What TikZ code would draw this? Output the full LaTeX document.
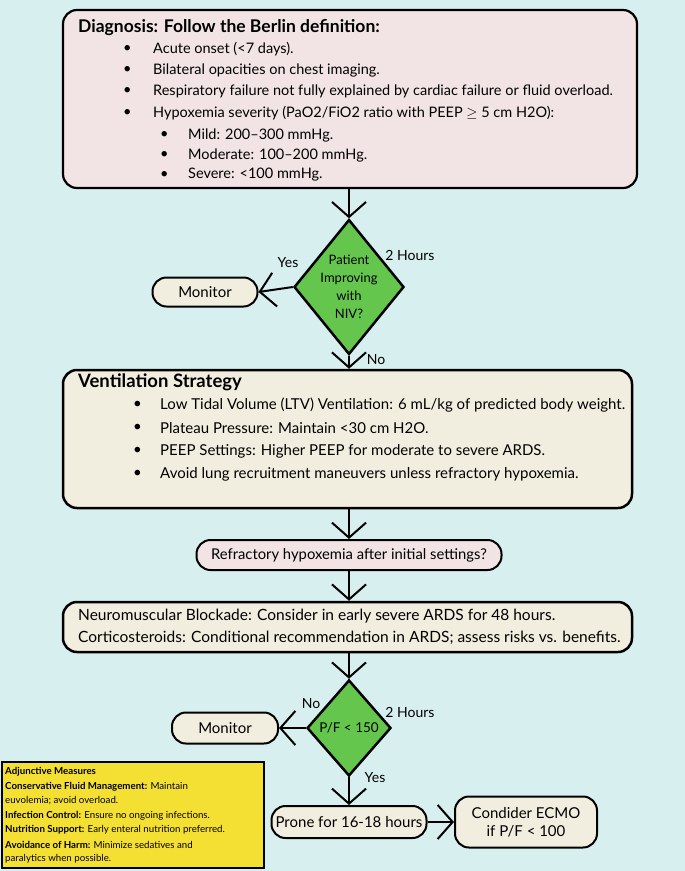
\documentclass[tikz,border=0pt]{standalone}
\usepackage{fontspec}
\setmainfont{Lato}
\usetikzlibrary{arrows.meta,shapes.geometric}
\definecolor{bg}{HTML}{D8EFF0}
\definecolor{pinkf}{HTML}{F2E4E4}
\definecolor{beige}{HTML}{F2EEDF}
\definecolor{grn}{HTML}{65C64E}
\definecolor{yel}{HTML}{F4E033}
\begin{document}
\begin{tikzpicture}[x=1pt,y=-1pt,
  box/.style={draw,line width=2.2pt,rounded corners=14pt,minimum width=#1,inner sep=0pt},
  pill/.style={draw,line width=2pt,rounded corners=14pt,fill=beige,font=\fontsize{15}{17}\selectfont},
  dia/.style={draw,line width=2.5pt,diamond,fill=grn,inner sep=0pt,aspect=0.8},
  arr/.style={line width=2pt,-{Straight Barb[length=15pt,width=34pt,line width=2pt]}},
  lbl/.style={font=\fontsize{14}{16}\selectfont},
  txt/.style={anchor=west,font=\fontsize{14.5}{16}\selectfont,inner sep=0pt}]
\fill[bg] (0,0) rectangle (685,871);
\useasboundingbox (0,0) rectangle (685,871);
% top box
\node[box=574pt,minimum height=178pt,fill=pinkf] (diag) at (350,99) {};
\node[txt,font=\fontsize{17.5}{19}\selectfont\bfseries] at (78,28) {Diagnosis: Follow the Berlin definition:};
\foreach \y/\t in {49/{Acute onset (<7 days).},70/{Bilateral opacities on chest imaging.},91/{Respiratory failure not fully explained by cardiac failure or fluid overload.},113/{Hypoxemia severity (PaO2/FiO2 ratio with PEEP $\geq$ 5 cm H2O):}}
  {\node[txt] at (123,\y) {•}; \node[txt] at (153,\y) {\t};}
\foreach \y/\t in {135/{Mild: 200–300 mmHg.},155/{Moderate: 100–200 mmHg.},175/{Severe: <100 mmHg.}}
  {\node[txt] at (160,\y) {•}; \node[txt] at (188,\y) {\t};}
% diamond 1
\node[dia,minimum width=110pt,minimum height=134pt,align=center,font=\fontsize{13}{18}\selectfont] (d1) at (349,287) {Patient\\Improving\\with\\NIV?};
\node[pill,minimum width=105pt,minimum height=29pt] (m1) at (205,292) {Monitor};
\node[lbl] at (410,255) {2 Hours};
\node[lbl] at (288,263) {Yes};
\node[lbl] at (376,360) {No};
\draw[arr] (diag.south -| d1) -- (d1.north);
\draw[arr] (d1.west) -- (m1.east);
% ventilation
\node[box=569pt,minimum height=138pt,fill=beige,line width=2.5pt] (vent) at (347.5,439) {};
\draw[arr] (d1.south) -- (vent.north -| d1);
\node[txt,font=\fontsize{18.5}{20}\selectfont\bfseries] at (78,382) {Ventilation Strategy};
\foreach \y/\t in {405/{Low Tidal Volume (LTV) Ventilation: 6 mL/kg of predicted body weight.},428/{Plateau Pressure: Maintain <30 cm H2O.},451/{PEEP Settings: Higher PEEP for moderate to severe ARDS.},474/{Avoid lung recruitment maneuvers unless refractory hypoxemia.}}
  {\node[txt,font=\fontsize{15}{17}\selectfont] at (133,\y) {•}; \node[txt,font=\fontsize{15}{17}\selectfont] at (160,\y) {\t};}
% refractory
\node[pill,fill=pinkf,minimum width=305pt,minimum height=30pt,font=\fontsize{14.8}{16}\selectfont] (ref) at (349,555) {Refractory hypoxemia after initial settings?};
\draw[arr] (vent.south -| ref) -- (ref.north);
% neuromuscular
\node[box=569pt,minimum height=50pt,fill=beige,line width=2.5pt] (nm) at (347.5,627) {};
\node[txt,font=\fontsize{15.5}{17}\selectfont] at (78,616) {Neuromuscular Blockade: Consider in early severe ARDS for 48 hours.};
\node[txt,font=\fontsize{15.5}{17}\selectfont] at (78,638) {Corticosteroids: Conditional recommendation in ARDS; assess risks vs. benefits.};
\draw[arr] (ref.south) -- (nm.north -| ref);
% diamond 2
\node[dia,minimum width=84pt,minimum height=96pt,font=\fontsize{13.5}{15}\selectfont] (d2) at (349,728) {P/F < 150};
\draw[arr] (nm.south -| d2) -- (d2.north);
\node[pill,minimum width=106pt,minimum height=31pt] (m2) at (225,728) {Monitor};
\draw[arr] (d2.west) -- (m2.east);
\node[lbl] at (410,712) {2 Hours};
\node[lbl] at (311,704) {No};
\node[lbl] at (375,778) {Yes};
\node[pill,minimum width=155pt,minimum height=32pt] (pr) at (349,822) {Prone for 16-18 hours};
\draw[arr] (d2.south) -- (pr.north);
\node[pill,minimum width=142pt,minimum height=51pt,align=center,font=\fontsize{15}{18}\selectfont] (ec) at (526,822) {Condider ECMO\\if P/F < 100};
\draw[arr] (pr.east) -- (ec.west);
% adjunctive
\node[draw,line width=2pt,fill=yel,minimum width=262pt,minimum height=106pt,inner sep=0pt] (adj) at (133,815) {};
\foreach \y/\t in {772/{\textbf{Adjunctive Measures}},787/{\textbf{Conservative Fluid Management:} Maintain},801/{euvolemia; avoid overload.},816/{\textbf{Infection Control:} Ensure no ongoing infections.},830/{\textbf{Nutrition Support:} Early enteral nutrition preferred.},845/{\textbf{Avoidance of Harm:} Minimize sedatives and},859/{paralytics when possible.}}
  \node[txt,font=\fontsize{9.7}{11}\selectfont] at (5,\y) {\t};
\end{tikzpicture}
\end{document}
